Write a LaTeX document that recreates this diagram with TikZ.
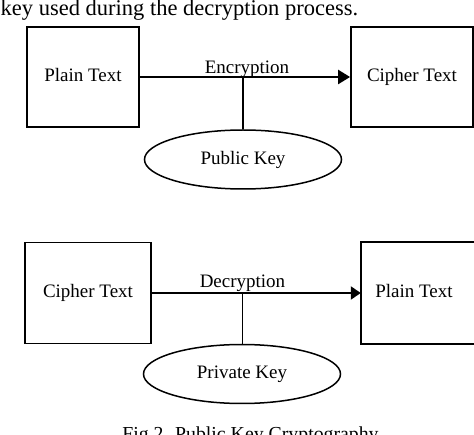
\documentclass[tikz,border=0pt]{standalone}
\usepackage{fontspec}
\setmainfont{Liberation Serif}
\usetikzlibrary{shapes.geometric,arrows.meta,calc}
\begin{document}
\begin{tikzpicture}[x=1pt,y=-1pt,
  lbl/.style={font=\fontsize{19}{21}\selectfont, text height=13pt, text depth=3pt, inner sep=0pt},
  boxA/.style={lbl, rectangle, draw, line width=1.8pt, minimum height=100pt},
  boxB/.style={lbl, rectangle, draw, line width=1.4pt, minimum height=101.5pt},
  keyell/.style={lbl, ellipse, draw, line width=1.5pt, minimum width=197pt, minimum height=59pt},
  arrA/.style={line width=2.4pt, -{Triangle[length=12pt,width=14pt]}},
  arrB/.style={line width=2pt, -{Triangle[length=10pt,width=13pt]}},
  stemA/.style={line width=2pt},
  stemB/.style={line width=1pt},
  edgelbl/.style={font=\fontsize{19}{21}\selectfont, inner sep=0pt, anchor=base}
]
\useasboundingbox (0,0) rectangle (474,435);

% top text
\node[font=\fontsize{22.5}{24}\selectfont, inner sep=0pt, anchor=base west] (toptext) at (0.5,16) {key used during the decryption process.};

% encryption row
\node[boxA, minimum width=112pt] (pt1) at (83,77) {Plain Text};
\node[boxA, minimum width=122pt] (ct1) at (412,77) {Cipher Text};
\node[keyell] (pk) at (243,159.5) {Public Key};
\draw[arrA] (pt1.east) -- (ct1.west);
\node[edgelbl] (enc) at (247,74) {Encryption};
\coordinate (ej) at (pk.north |- pt1.east);
\draw[stemA] (pk.north) -- (ej);

% decryption row
\node[boxB, minimum width=126pt] (ct2) at (88,293) {Cipher Text};
\node[lbl, rectangle, minimum width=106pt, minimum height=101.5pt] (pt2) at (414,293) {Plain Text};
\draw[line width=1.4pt] ($(pt2.north west)+(130,0)$) -- (pt2.north west) -- (pt2.south west) -- ++(130,0);
\node[keyell] (rk) at (242,374) {Private Key};
\draw[arrB] (ct2.east) -- (pt2.west);
\node[edgelbl] (dec) at (242.5,288) {Decryption};
\coordinate (dj) at (rk.north |- ct2.east);
\draw[stemB] (rk.north) -- (dj);

% caption
\node[font=\fontsize{19.8}{22}\selectfont, inner sep=0pt, anchor=base] (cap) at (250.5,440) {Fig 2. Public Key Cryptography};
\end{tikzpicture}
\end{document}
